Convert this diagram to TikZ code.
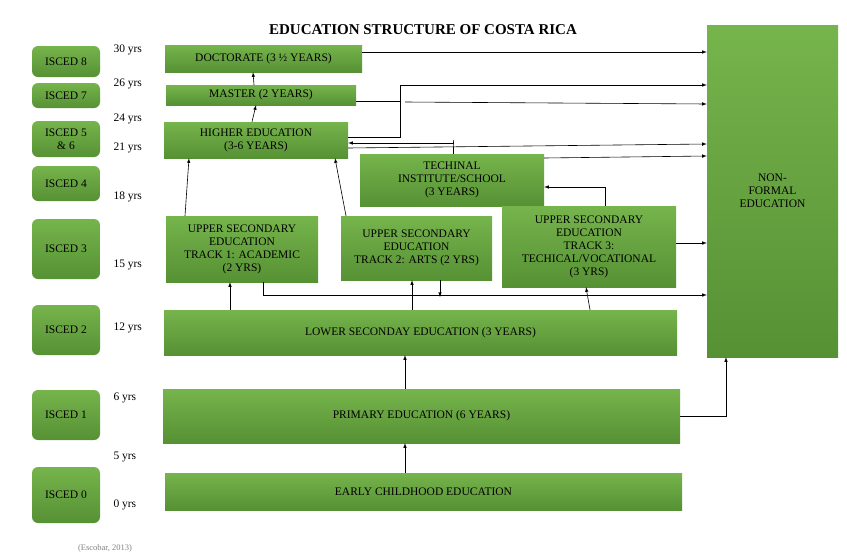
\documentclass[tikz,border=0pt]{standalone}
\usepackage{fontspec}
\setmainfont{Liberation Serif}
\usetikzlibrary{arrows,calc}
\definecolor{grTop}{RGB}{118,180,76}
\definecolor{grBot}{RGB}{86,145,52}
\begin{document}
\begin{tikzpicture}[x=1pt,y=-1pt]
  \tikzset{BoxStyle/.style = {rectangle,
                              top color    = grTop,
                              bottom color = grBot,
                              draw         = none,
                              text         = black,
                              align        = center,
                              font         = \fontsize{11.5}{13}\selectfont,
                              inner sep    = 1pt},
           IscedStyle/.style = {BoxStyle, rounded corners = 6pt, minimum width = 68pt},
           AgeStyle/.style   = {anchor=west, font=\fontsize{11.5}{13}\selectfont},
           arr/.style        = {-latex, line width=0.6pt}}
  \useasboundingbox (0,0) rectangle (847,560);
  %%% TITLE %%%
  \node[font=\bfseries\fontsize{15}{17}\selectfont] (title) at (423,30) {EDUCATION STRUCTURE OF COSTA RICA};
  %%% ISCED LEVELS %%%
  \node[IscedStyle, minimum height=31pt] (i8) at (66,61.5) {ISCED 8};
  \node[IscedStyle, minimum height=25pt] (i7) at (66,95.5) {ISCED 7};
  \node[IscedStyle, minimum height=36pt] (i56) at (66,139) {ISCED 5\\ \& 6};
  \node[IscedStyle, minimum height=35pt] (i4) at (66,183.5) {ISCED 4};
  \node[IscedStyle, minimum height=60pt] (i3) at (66,249) {ISCED 3};
  \node[IscedStyle, minimum height=50pt] (i2) at (66,330) {ISCED 2};
  \node[IscedStyle, minimum height=50pt] (i1) at (66,415) {ISCED 1};
  \node[IscedStyle, minimum height=56pt] (i0) at (66,495) {ISCED 0};
  %%% AGES %%%
  \foreach \age/\y in {30/50, 26/84, 24/119, 21/148, 18/197, 15/265, 12/328, 6/398, 5/457, 0/505}
    \node[AgeStyle] (age\age) at (110,\y) {\age{} yrs};
  %%% STAGES %%%
  \node[BoxStyle, minimum width=197pt, minimum height=27pt] (doc) at (263.5,58.5) {DOCTORATE (3 ½ YEARS)};
  \node[BoxStyle, minimum width=190pt, minimum height=20pt] (mas) at (261,95) {MASTER (2 YEARS)};
  \node[BoxStyle, minimum width=184pt, minimum height=36pt] (high) at (256,140) {HIGHER EDUCATION\\(3-6 YEARS)};
  \node[BoxStyle, minimum width=184pt, minimum height=52pt] (tech) at (452,180) {TECHINAL\\INSTITUTE/SCHOOL\\(3 YEARS)};
  \node[BoxStyle, minimum width=152pt, minimum height=66pt] (tr1) at (242,249) {UPPER SECONDARY\\EDUCATION\\TRACK 1: ACADEMIC\\(2 YRS)};
  \node[BoxStyle, minimum width=151pt, minimum height=64pt] (tr2) at (416.5,248) {UPPER SECONDARY\\EDUCATION\\TRACK 2: ARTS (2 YRS)};
  \node[BoxStyle, minimum width=174pt, minimum height=81pt] (tr3) at (589,246.5) {UPPER SECONDARY\\EDUCATION\\TRACK 3:\\TECHICAL/VOCATIONAL\\(3 YRS)};
  \node[BoxStyle, minimum width=513pt, minimum height=45pt] (low) at (420.5,332.5) {LOWER SECONDAY EDUCATION (3 YEARS)};
  \node[BoxStyle, minimum width=517pt, minimum height=54pt] (prim) at (421.5,416) {PRIMARY EDUCATION (6 YEARS)};
  \node[BoxStyle, minimum width=517pt, minimum height=37pt] (early) at (423.5,491.5) {EARLY CHILDHOOD EDUCATION};
  \node[BoxStyle, minimum width=131pt, minimum height=332pt] (nf) at (772.5,191) {NON-\\FORMAL\\EDUCATION};
  %%% ARROWS UP %%%
  \draw[arr] (early.north -| 405,0) -- (prim.south -| 405,0);
  \draw[arr] (prim.north -| 405,0) -- (low.south -| 405,0);
  \draw[arr] (prim.east) -| (nf.south -| 726,0);
  \draw[arr] (low.north -| 230,0) -- (tr1.south -| 230,0);
  \draw[arr] (low.north -| 412,0) -- (tr2.south -| 412,0);
  \draw[arr] (low.north -| 590,0) -- (tr3.south -| 586,0);
  \draw[arr] (tr1.south -| 263,0) |- (nf.west |- 0,295);
  \draw[arr] (tr2.south -| 440,0) -- (440,297);
  \draw[arr] (tr1.north -| 185,0) -- (high.south -| 189,0);
  \draw[arr] (tr2.north -| 346,0) -- (high.south -| 335,0);
  \draw[arr] (tr3.north -| 605,0) |- (tech.east |- 0,187);
  \draw[arr] (tr3.east |- 0,243) -- (nf.west |- 0,243);
  \draw[arr] (tech.east |- 0,158) -- (nf.west |- 0,156);
  \draw[arr] (tech.north -| 453,0) -- (453,140) -- (453,143) -- (high.east |- 0,143);
  \draw[arr] (high.east |- 0,148) -- (nf.west |- 0,144);
  \draw[arr] (high.east |- 0,137) -| (400,85) -- (nf.west |- 0,85);
  \draw (mas.east |- 0,101) -- (400,101);
  \draw[arr] (405,102) -- (nf.west |- 0,104);
  \draw[arr] (doc.east |- 0,52) -- (nf.west |- 0,52);
  \draw[arr] (high.north -| 252,0) -- (mas.south -| 256,0);
  \draw[arr] (mas.north -| 254,0) -- (doc.south -| 253,0);
  %%% SOURCE %%%
  \node[font=\fontsize{8.5}{10}\selectfont, text=gray] (src) at (105,548) {(Escobar, 2013)};
\end{tikzpicture}
\end{document}
